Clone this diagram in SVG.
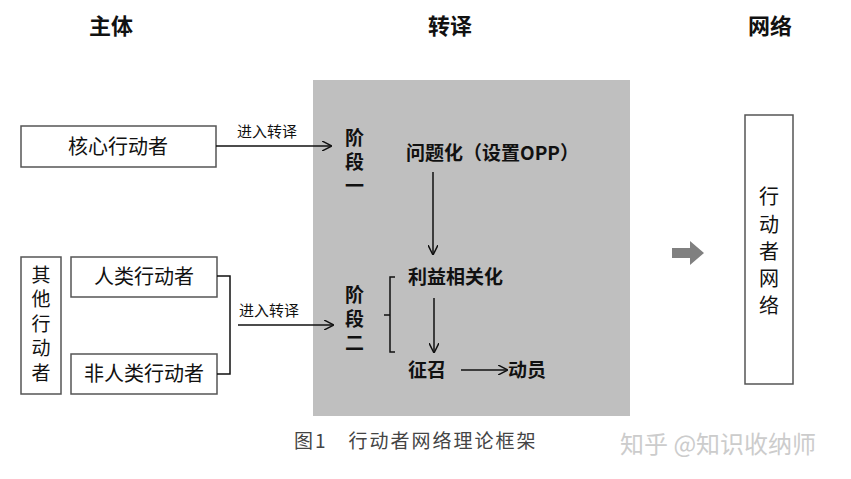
<svg xmlns="http://www.w3.org/2000/svg" width="851" height="479" viewBox="0 0 851 479">
<defs>
<style>
text{font-family:"Noto Sans CJK SC","Liberation Sans",sans-serif;fill:#111}
.h{font-size:22px;font-weight:bold;text-anchor:middle}
.b{fill:#fff;stroke:#555;stroke-width:1.5}
.n{font-size:20px}
.v{font-size:19px}
.s{font-size:19px;font-weight:bold}
.l{stroke:#111;stroke-width:1.5;fill:none}
</style>
<marker id="a" viewBox="0 0 10 10" refX="9" refY="5" markerWidth="10" markerHeight="10" markerUnits="userSpaceOnUse" orient="auto"><path d="M0,0L10,5L0,10" fill="none" stroke="#111" stroke-width="1.5"/></marker>
</defs>
<rect width="851" height="479" fill="#fff"/>
<text class="h" x="111" y="34">主体</text>
<text class="h" x="450" y="34">转译</text>
<text class="h" x="770" y="34">网络</text>
<rect x="313" y="80" width="317" height="336" fill="#bfbfbf"/>
<g id="core"><rect class="b" x="21" y="126" width="195" height="41"/><text class="n" x="118" y="154" text-anchor="middle" font-size="21">核心行动者</text></g>
<g id="other"><rect class="b" x="21" y="257" width="40" height="137"/>
<text class="v" x="41" y="282" text-anchor="middle">其</text><text class="v" x="41" y="306" text-anchor="middle">他</text><text class="v" x="41" y="331" text-anchor="middle">行</text><text class="v" x="41" y="355" text-anchor="middle">动</text><text class="v" x="41" y="380" text-anchor="middle">者</text></g>
<g id="human"><rect class="b" x="71" y="257" width="146" height="40"/><text class="n" x="144" y="284" text-anchor="middle">人类行动者</text></g>
<g id="nonhuman"><rect class="b" x="71" y="354" width="146" height="40"/><text class="n" x="144" y="381" text-anchor="middle">非人类行动者</text></g>
<g id="stage1"><text class="s" x="345" y="145">阶</text><text class="s" x="345" y="169">段</text><text class="s" x="345" y="193">一</text></g>
<g id="stage2"><text class="s" x="345" y="302">阶</text><text class="s" x="345" y="326">段</text><text class="s" x="345" y="350">二</text></g>
<g id="p1"><text class="s" x="406" y="160">问题化（设置OPP）</text></g>
<g id="p2"><text class="s" x="408" y="284" font-size="21">利益相关化</text></g>
<g id="p3"><text class="s" x="408" y="377">征召</text></g>
<g id="p4"><text class="s" x="508" y="377">动员</text></g>
<g id="network"><rect class="b" x="745" y="115" width="48" height="269"/>
<text class="n" x="769" y="204" text-anchor="middle">行</text><text class="n" x="769" y="232" text-anchor="middle">动</text><text class="n" x="769" y="259" text-anchor="middle">者</text><text class="n" x="769" y="286" text-anchor="middle">网</text><text class="n" x="769" y="313" text-anchor="middle">络</text></g>
<g id="caption"><text x="294" y="448" font-size="19" letter-spacing="2" style="fill:#444">图1　行动者网络理论框架</text>
<text x="620" y="453" font-size="24" style="fill:#ccc">知乎 @知识收纳师</text></g>
<g id="connectors">
<path class="l" d="M216,146H331" marker-end="url(#a)"/>
<text x="237" y="137" font-size="15">进入转译</text>
<path class="l" d="M217,276H230V374H217"/>
<path class="l" d="M238,325H333" marker-end="url(#a)"/>
<text x="239" y="316" font-size="15">进入转译</text>
<path class="l" d="M395,277H390V352H395M390,315H384"/>
<path class="l" d="M433,172V254" marker-end="url(#a)"/>
<path class="l" d="M434,298V352" marker-end="url(#a)"/>
<path class="l" d="M461,370H507" marker-end="url(#a)"/>
<path d="M672,248H690V241L704,253L690,265V258H672Z" fill="#808080"/>
</g>
</svg>
